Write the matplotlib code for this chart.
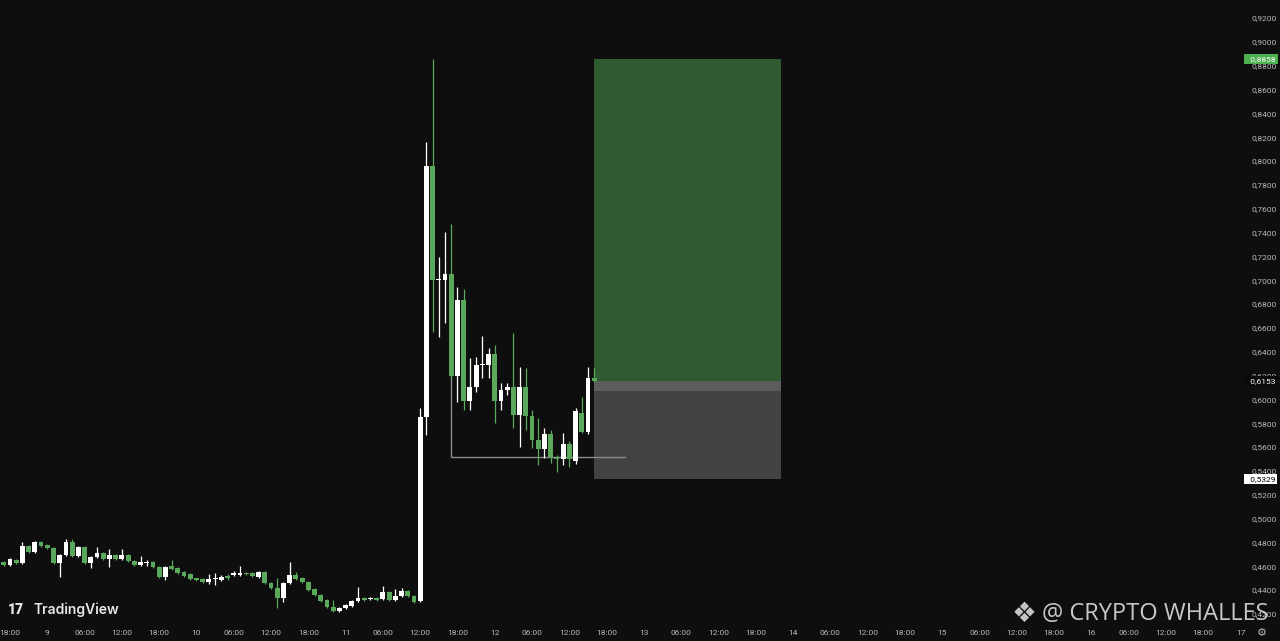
import numpy as np
import matplotlib
matplotlib.use("Agg")
import matplotlib.pyplot as plt
import matplotlib.transforms as mtransforms

# hourly candles, index 0 = day 8 18:00
first_idx = -1
opens = [0.4636, 0.4611, 0.4652, 0.4627, 0.4770, 0.4720, 0.4804, 0.4778, 0.4753, 0.4627,
         0.4694, 0.4804, 0.4686, 0.4762, 0.4627, 0.4678, 0.4711, 0.4661, 0.4694, 0.4661,
         0.4694, 0.4644, 0.4611, 0.4627, 0.4636, 0.4594, 0.4510, 0.4602, 0.4585, 0.4552,
         0.4535, 0.4501, 0.4493, 0.4468, 0.4493, 0.4485, 0.4518, 0.4527, 0.4527, 0.4543,
         0.4543, 0.4510, 0.4552, 0.4460, 0.4418, 0.4334, 0.4460, 0.4527, 0.4501, 0.4468,
         0.4409, 0.4359, 0.4317, 0.4258, 0.4225, 0.4250, 0.4267, 0.4309, 0.4334, 0.4326,
         0.4334, 0.4326, 0.4384, 0.4317, 0.4351, 0.4393, 0.4351,
         0.4310, 0.5850, 0.7958, 0.7000, 0.7000, 0.7050, 0.6200, 0.6834, 0.5987, 0.6100,
         0.6290, 0.6290, 0.6380, 0.5990, 0.6080, 0.6100, 0.5870, 0.6100, 0.5860, 0.5660,
         0.5580, 0.5710, 0.5520, 0.5500, 0.5630, 0.5480, 0.5890, 0.5730, 0.6180]
closes = [0.4611, 0.4661, 0.4627, 0.4770, 0.4720, 0.4804, 0.4770, 0.4753, 0.4627, 0.4694,
          0.4804, 0.4686, 0.4762, 0.4627, 0.4678, 0.4711, 0.4661, 0.4694, 0.4661, 0.4694,
          0.4644, 0.4611, 0.4636, 0.4630, 0.4594, 0.4510, 0.4594, 0.4577, 0.4543, 0.4518,
          0.4493, 0.4485, 0.4468, 0.4493, 0.4501, 0.4510, 0.4501, 0.4543, 0.4543, 0.4535,
          0.4518, 0.4552, 0.4460, 0.4418, 0.4334, 0.4460, 0.4527, 0.4493, 0.4468, 0.4401,
          0.4359, 0.4309, 0.4258, 0.4225, 0.4250, 0.4275, 0.4309, 0.4334, 0.4317, 0.4334,
          0.4317, 0.4384, 0.4317, 0.4351, 0.4393, 0.4351, 0.4300,
          0.5850, 0.7958, 0.7000, 0.7005, 0.7050, 0.6200, 0.6834, 0.5990, 0.6100, 0.6290,
          0.6295, 0.6380, 0.5990, 0.6080, 0.6100, 0.5870, 0.6100, 0.5860, 0.5660, 0.5584,
          0.5710, 0.5520, 0.5500, 0.5630, 0.5500, 0.5900, 0.5730, 0.6180, 0.6153]
highs = [0.4645, 0.4670, 0.4660, 0.4804, 0.4778, 0.4812, 0.4810, 0.4785, 0.4760, 0.4700,
         0.4829, 0.4829, 0.4770, 0.4770, 0.4686, 0.4762, 0.4720, 0.4745, 0.4700, 0.4745,
         0.4700, 0.4650, 0.4686, 0.4652, 0.4645, 0.4600, 0.4600, 0.4652, 0.4590, 0.4560,
         0.4540, 0.4505, 0.4500, 0.4535, 0.4543, 0.4525, 0.4535, 0.4560, 0.4602, 0.4550,
         0.4550, 0.4560, 0.4560, 0.4465, 0.4501, 0.4470, 0.4636, 0.4552, 0.4510, 0.4475,
         0.4415, 0.4365, 0.4322, 0.4317, 0.4256, 0.4282, 0.4315, 0.4426, 0.4340, 0.4345,
         0.4340, 0.4434, 0.4390, 0.4410, 0.4418, 0.4400, 0.4358,
         0.5927, 0.8160, 0.8858, 0.7195, 0.7405, 0.7470, 0.6940, 0.6930, 0.6350, 0.6356,
         0.6530, 0.6430, 0.6456, 0.6140, 0.6140, 0.6560, 0.6270, 0.6260, 0.5910, 0.5840,
         0.5760, 0.5740, 0.5530, 0.5720, 0.5650, 0.5930, 0.6020, 0.6270, 0.6260]
lows = [0.4603, 0.4603, 0.4620, 0.4620, 0.4712, 0.4712, 0.4762, 0.4745, 0.4618, 0.4510,
        0.4686, 0.4678, 0.4678, 0.4618, 0.4585, 0.4670, 0.4652, 0.4594, 0.4652, 0.4652,
        0.4636, 0.4603, 0.4603, 0.4602, 0.4585, 0.4500, 0.4485, 0.4568, 0.4535, 0.4510,
        0.4485, 0.4477, 0.4460, 0.4451, 0.4443, 0.4477, 0.4485, 0.4520, 0.4518, 0.4527,
        0.4510, 0.4500, 0.4450, 0.4410, 0.4250, 0.4300, 0.4452, 0.4485, 0.4460, 0.4393,
        0.4350, 0.4300, 0.4250, 0.4217, 0.4217, 0.4242, 0.4260, 0.4300, 0.4309, 0.4318,
        0.4309, 0.4318, 0.4309, 0.4309, 0.4343, 0.4343, 0.4292,
        0.4300, 0.5700, 0.6566, 0.6520, 0.6640, 0.6180, 0.5980, 0.5910, 0.5910, 0.6060,
        0.6180, 0.6180, 0.5800, 0.5910, 0.6040, 0.5760, 0.5600, 0.5740, 0.5590, 0.5450,
        0.5510, 0.5470, 0.5390, 0.5450, 0.5430, 0.5460, 0.5720, 0.5710, 0.6148]

time_labels = ["18:00", "9", "06:00", "12:00", "18:00", "10", "06:00", "12:00", "18:00",
               "11", "06:00", "12:00", "18:00", "12", "06:00", "12:00", "18:00", "13",
               "06:00", "12:00", "18:00", "14", "06:00", "12:00", "18:00", "15", "06:00",
               "12:00", "18:00", "16", "06:00", "12:00", "18:00", "17"]
price_ticks = [0.42, 0.44, 0.46, 0.48, 0.50, 0.52, 0.54, 0.56, 0.58, 0.60, 0.62, 0.64,
               0.66, 0.68, 0.70, 0.72, 0.74, 0.76, 0.78, 0.80, 0.82, 0.84, 0.86, 0.88,
               0.90, 0.92]

# long position tool + drawn line
target_price = 0.8858
entry_price = 0.6153
entry_band_low = 0.6070
stop_price = 0.5329
pos_start, pos_end = 94, 124
level_price = 0.5517
level_start, level_end = 71, 99
level_top = 0.6200

bg = "#0e0e0e"
up_col = "#ffffff"
down_col = "#59a85c"
txt_col = "#b8b8b8"

W, H = 1280, 641
fig = plt.figure(figsize=(12.8, 6.41), dpi=100, facecolor=bg)
ax = fig.add_axes([0, 17 / H, 1246 / W, 624 / H], facecolor=bg)

px = 6.215  # pixels per hour
ax.set_xlim(-10 / px, (1246 - 10) / px)
ax.set_ylim(0.92 - (624 - 18) * 0.000839, 0.92 + 18 * 0.000839)

idx = np.arange(first_idx, first_idx + len(opens))
o = np.array(opens)
c = np.array(closes)
cols = [up_col if cc >= oo else down_col for oo, cc in zip(o, c)]
ax.vlines(idx, lows, highs, colors=cols, linewidth=0.9, zorder=3)
bottoms = np.minimum(o, c)
heights = np.maximum(np.abs(c - o), 0.0009)
ax.bar(idx, heights, bottom=bottoms, width=0.78, color=cols, linewidth=0, zorder=4)

# position boxes
ax.fill_between([pos_start, pos_end], entry_price, target_price, color="#2e5c30", lw=0, zorder=1)
ax.fill_between([pos_start, pos_end], entry_band_low, entry_price, color="#5c5c5c", lw=0, zorder=1)
ax.fill_between([pos_start, pos_end], stop_price, entry_band_low, color="#424242", lw=0, zorder=1)

# support line
ax.plot([level_start, level_start, level_end], [level_top, level_price, level_price],
        color="#8a8a8a", linewidth=1, zorder=2)

for s in ax.spines.values():
    s.set_visible(False)
ax.set_xticks(np.arange(len(time_labels)) * 6)
ax.set_xticklabels(time_labels)
ax.yaxis.tick_right()
ax.set_yticks(price_ticks)
ax.set_yticklabels([f"{p:.4f}".replace(".", ",") for p in price_ticks])
ax.tick_params(axis="both", length=0, colors=txt_col, labelsize=6)
ax.tick_params(axis="x", pad=4)
ax.tick_params(axis="y", pad=4)
for lab in ax.get_xticklabels() + ax.get_yticklabels():
    lab.set_fontfamily("Roboto")

# price labels on the scale
tr = mtransforms.blended_transform_factory(ax.transAxes, ax.transData)
label_specs = [(target_price, "#4caf50", "#ffffff"),
               (entry_price, "#0a0a0a", "#ffffff"),
               (stop_price, "#ffffff", "#000000")]
for p, fc, tc in label_specs:
    ax.text(1.0, p, "  " + f"{p:.4f}".replace(".", ","), transform=tr, ha="left", va="center",
            fontsize=6, color=tc, family="Roboto", zorder=10, clip_on=False,
            bbox=dict(boxstyle="square,pad=0.25", fc=fc, ec="none"))

# watermarks
fig.text(8 / W, 1 - 610 / H, "17", color="#e8e8e8", fontsize=10, fontweight="heavy",
         family="Roboto", va="center", ha="left")
fig.text(33 / W, 1 - 610 / H, "TradingView", color="#e8e8e8", fontsize=10,
         fontweight="semibold", family="Inter", va="center", ha="left")
fig.text(1024 / W, 1 - 614 / H, "\u2756", color="#d8d8d8", fontsize=20, family="DejaVu Sans",
         va="center", ha="center", alpha=0.9)
fig.text(1042 / W, 1 - 614 / H, "@ CRYPTO WHALLES", color="#dcdcdc", fontsize=17,
         family="Open Sans", va="center", ha="left", alpha=0.9)
fig.text(1262 / W, 1 - 633 / H, "\u2699", color=txt_col, fontsize=8, family="DejaVu Sans",
         va="center", ha="center")

fig.savefig("out.png", dpi=100, facecolor=bg)
